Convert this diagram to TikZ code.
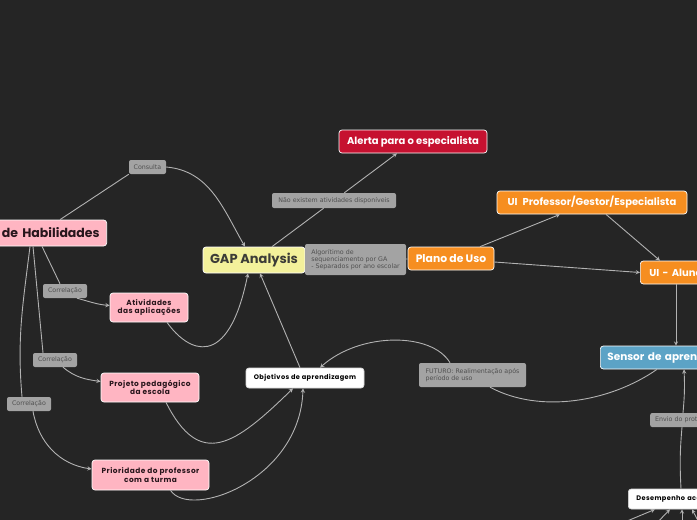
\documentclass[tikz,border=0pt]{standalone}
\usepackage{fontspec}
\setmainfont{DejaVu Sans}
\newfontfamily\headfont{Poppins}
\newfontfamily\smallhead{Poppins}[LetterSpace=6]
\usepackage{tikz}
\definecolor{mapbg}{RGB}{37,37,37}
\definecolor{wirec}{RGB}{178,178,178}
\definecolor{relfill}{RGB}{163,163,163}
\definecolor{reltext}{RGB}{80,80,80}
\definecolor{pinkc}{RGB}{255,181,194}
\definecolor{pinktxt}{RGB}{40,22,28}
\definecolor{gapc}{RGB}{243,241,155}
\definecolor{gaptxt}{RGB}{60,60,55}
\definecolor{alertc}{RGB}{198,17,48}
\definecolor{orangec}{RGB}{246,142,32}
\definecolor{sensorc}{RGB}{92,163,198}

\begin{document}
\begin{tikzpicture}[x=1pt,y=-1pt,>=stealth,
  wire/.style={draw=wirec,line width=0.9pt},
  box/.style={rounded corners=3pt,draw=white,line width=0.7pt,inner sep=0pt,align=center},
  big/.style={box,text=white,font=\headfont\bfseries\fontsize{10}{12}\selectfont},
  pinkbox/.style={box,fill=pinkc,text=pinktxt,font=\smallhead\bfseries\fontsize{7.4}{8.6}\selectfont},
  whitebox/.style={box,fill=white,draw=gray!30,text=black,font=\smallhead\bfseries\fontsize{6.6}{8}\selectfont},
  rel/.style={fill=relfill,text=reltext,rounded corners=2pt,inner sep=0pt,align=left,font=\fontsize{6.3}{7.3}\selectfont}]
\useasboundingbox (0,0) rectangle (697,520);
\fill[mapbg] (0,0) rectangle (697,520);
\clip (0,0) rectangle (697,520);
\node[box,fill=pinkc,text=pinktxt,anchor=east,text width=140,align=right,inner xsep=7,minimum height=26,font=\headfont\bfseries\fontsize{12.5}{15}\selectfont] (hab) at (107,233) {de Habilidades};
\node[big,fill=gapc,text=gaptxt,font=\headfont\bfseries\fontsize{13}{15}\selectfont,minimum width=102,minimum height=26] (gap) at (254,260) {GAP Analysis};
\node[big,fill=alertc,minimum width=148,minimum height=23] (alerta) at (413,141.5) {Alerta para o especialista};
\node[big,fill=orangec,minimum width=86,minimum height=23,font=\headfont\bfseries\fontsize{10.8}{12}\selectfont] (plano) at (451,258.5) {Plano de Uso};
\node[big,fill=orangec,minimum width=190,minimum height=23] (uiprof) at (592,202.5) {UI\enspace Professor/Gestor/Especialista};
\node[big,fill=orangec,anchor=west,text width=90,align=left,inner xsep=9,minimum height=23] (uialuno) at (640,272.5) {UI - Aluno};
\node[big,fill=sensorc,anchor=west,text width=150,align=left,inner xsep=7,minimum height=23,font=\headfont\bfseries\fontsize{10.5}{12}\selectfont] (sensor) at (600,357.5) {Sensor de aprendizagem};
\node[pinkbox,minimum width=78,minimum height=29] (ativ) at (149,307.5) {Atividades\\das aplicações};
\node[pinkbox,minimum width=98,minimum height=29] (proj) at (150,387.5) {Projeto pedagógico\\da escola};
\node[pinkbox,minimum width=117,minimum height=30] (prio) at (150.5,475) {Prioridade do professor\\com a turma};
\node[whitebox,minimum width=118,minimum height=20] (obj) at (305,378) {Objetivos de aprendizagem};
\node[whitebox,anchor=west,text width=100,align=left,inner xsep=8,minimum height=20] (desemp) at (628,499) {Desempenho acadêmico};
\node[rel,minimum width=37,minimum height=14] (consulta) at (147.5,167) {Consulta};
\node[rel,minimum width=124,minimum height=15] (naoex) at (334,200.5) {Não existem atividades disponíveis};
\node[rel,minimum width=101,minimum height=31] (algo) at (355.5,259.5) {Algorítimo de\\sequenciamento por GA\\- Separados por ano escolar};
\node[rel,minimum width=107,minimum height=24] (futuro) at (472.5,375) {FUTURO: Realimentação após\\período de uso};
\node[rel,minimum width=44,minimum height=14] (corr1) at (65,291) {Correlação};
\node[rel,minimum width=44,minimum height=14] (corr2) at (55,360) {Correlação};
\node[rel,minimum width=44,minimum height=14] (corr3) at (29,404) {Correlação};
\node[rel,anchor=west,text width=100,inner xsep=5,minimum height=14] (envio) at (650,420) {Envio do protocolo};
\draw[wire] ([xshift=-47]hab.north east) -- (consulta.south west);
\draw[wire,->] (consulta.east) to[out=-5,in=120] ([xshift=-9]gap.north);
\draw[wire] ([xshift=18]gap.north) -- (naoex);
\draw[wire,->] (naoex) -- ([xshift=-16]alerta.south);
\draw[wire] (algo) -- (plano);
\draw[wire,->] ([xshift=29]plano.north) -- ([xshift=-32]uiprof.south);
\draw[wire,->] ([yshift=-3.5]plano.east) -- (uialuno.west);
\draw[wire,->] ([xshift=14]uiprof.south) -- ([xshift=20]uialuno.north west);
\draw[wire,->] ([xshift=36]uialuno.south west) -- ([xshift=76]sensor.north west);
\draw[wire] ([xshift=57]sensor.south west) .. controls (610,402) and (540,414) .. ([xshift=17.5]futuro.south);
\draw[wire,->] ([xshift=-22.5]futuro.north) .. controls (432,332) and (360,332) .. ([xshift=15]obj.north);
\draw[wire] ([xshift=53]desemp.north west) to[bend left=4] ([xshift=32]envio.south west);
\draw[wire,->] ([xshift=33]envio.north west) to[bend right=4] ([xshift=84]sensor.south west);
\coordinate (in1) at (608,529);
\coordinate (in2) at (651,529);
\coordinate (in3) at (682,530);
\coordinate (in4) at (703,530);
\draw[wire,->] (in1) -- ([xshift=27]desemp.south west);
\draw[wire,->] (in2) -- ([xshift=42]desemp.south west);
\draw[wire,->] (in3) -- ([xshift=54]desemp.south west);
\draw[wire,->] (in4) -- ([xshift=64]desemp.south west);
\draw[wire,->] ([xshift=18]ativ.south) .. controls (188,352) and (228,372) .. ([xshift=-6]gap.south);
\draw[wire,->] ([xshift=-5]obj.north) -- ([xshift=6]gap.south);
\draw[wire] ([xshift=-65]hab.south east) -- ([xshift=-5]corr1.north);
\draw[wire,->] ([xshift=12]corr1.south) to[out=-15,in=175] ([yshift=2]ativ.west);
\draw[wire] ([xshift=-74]hab.south east) -- ([xshift=-12]corr2.north);
\draw[wire,->] ([xshift=8]corr2.south) to[out=-40,in=172] ([yshift=6]proj.west);
\draw[wire] ([xshift=-77]hab.south east) to[out=-97,in=95] ([xshift=-7]corr3.north);
\draw[wire,->] ([xshift=4]corr3.south) to[out=-80,in=172] ([yshift=6]prio.west);
\draw[wire,->] ([xshift=16]proj.south) .. controls (200,470) and (235,445) .. ([xshift=-12]obj.south);
\draw[wire,->] ([xshift=20]prio.south) .. controls (190,520) and (300,480) .. ([xshift=-2]obj.south);
\end{tikzpicture}
\end{document}
